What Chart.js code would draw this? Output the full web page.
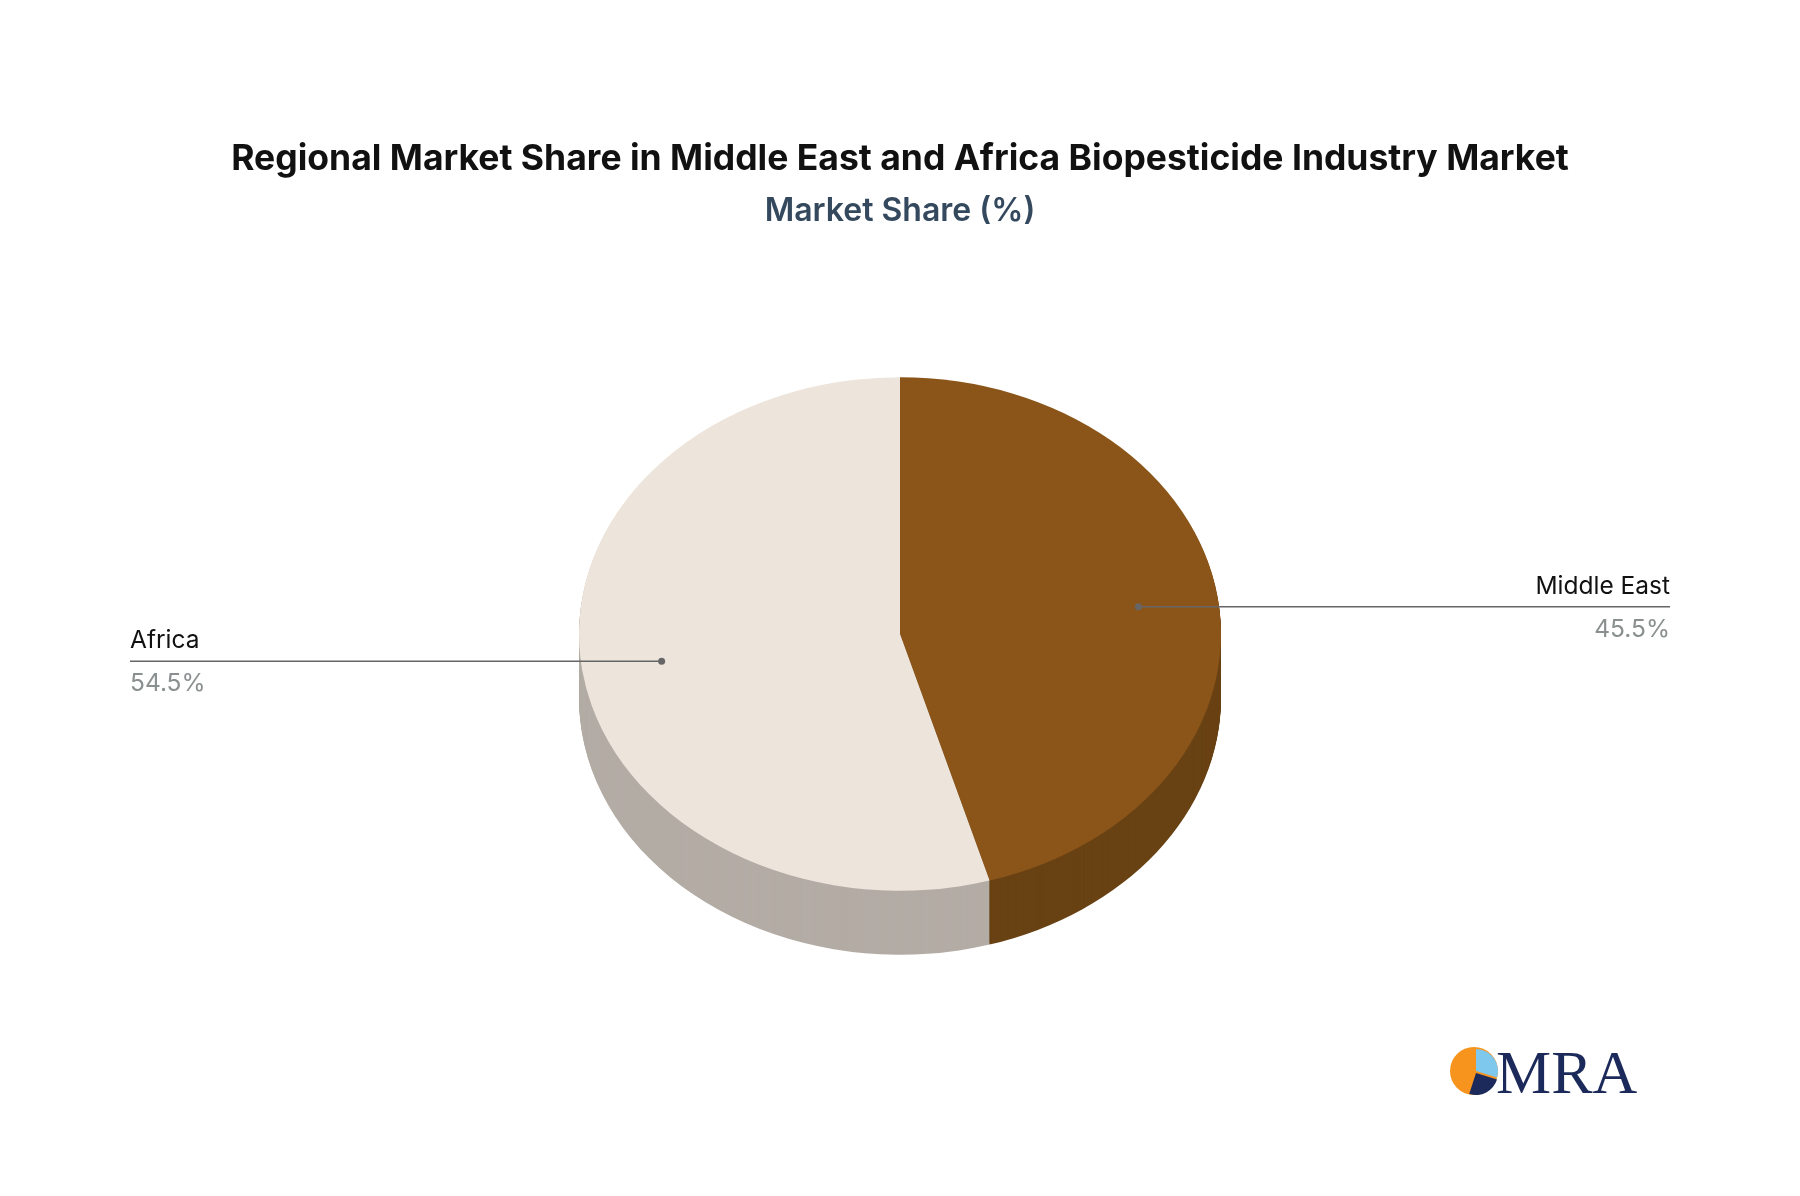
<!DOCTYPE html>
<html><head><meta charset="utf-8">
<script src="https://cdn.jsdelivr.net/npm/chart.js@4/dist/chart.umd.min.js"></script>
<style>html,body{margin:0;padding:0;background:#fff}canvas{display:block}</style>
</head><body>
<canvas id="c" width="1800" height="1196"></canvas>
<script>
const categories = ["Middle East", "Africa"];
const shareValues = [45.5, 54.5];
const topColors = ["#8B5519", "#EDE5DC"];
const sideColors = ["#694214", "#B3ACA5"];
const titleText = "Regional Market Share in Middle East and Africa Biopesticide Industry Market";
const subtitleText = "Market Share (%)";

const CY = 634, RATIO = 0.8, DEPTH = 64;
function applyT(ctx, a, d){ ctx.translate(a.x, CY + d); ctx.scale(1, RATIO); ctx.translate(-a.x, -a.y); }

const pie3d = {
  id: 'pie3d',
  beforeDatasetsDraw(chart){
    const ctx = chart.ctx, arcs = chart.getDatasetMeta(0).data;
    for (let d = DEPTH; d >= 1; d--) {
      arcs.forEach((a, i) => {
        ctx.save(); applyT(ctx, a, d);
        ctx.beginPath(); ctx.moveTo(a.x, a.y);
        ctx.arc(a.x, a.y, a.outerRadius, a.startAngle, a.endAngle);
        ctx.closePath(); ctx.fillStyle = sideColors[i]; ctx.fill();
        ctx.restore();
      });
    }
    ctx.save(); applyT(ctx, arcs[0], 0);
  },
  afterDatasetsDraw(chart){ chart.ctx.restore(); },
  afterDraw(chart){
    const ctx = chart.ctx, arcs = chart.getDatasetMeta(0).data;
    ctx.save();
    ctx.textAlign = 'center'; ctx.textBaseline = 'middle';
    ctx.fillStyle = '#111'; ctx.font = 'bold 35.5px Inter, "Noto Sans", sans-serif';
    ctx.fillText(titleText, 900, 159);
    ctx.fillStyle = '#34495e'; ctx.font = '600 32px Inter, "Noto Sans", sans-serif';
    ctx.fillText(subtitleText, 900, 211);
    const total = shareValues.reduce((s, v) => s + v, 0);
    arcs.forEach((a, i) => {
      const mid = (a.startAngle + a.endAngle) / 2;
      const px = a.x + Math.cos(mid) * a.outerRadius * 0.75;
      const py = CY + Math.sin(mid) * a.outerRadius * 0.75 * RATIO;
      const right = Math.cos(mid) > 0;
      const ex = right ? 1670 : 130;
      ctx.strokeStyle = '#666'; ctx.lineWidth = 1.5;
      ctx.beginPath(); ctx.moveTo(px, py); ctx.lineTo(ex, py); ctx.stroke();
      ctx.fillStyle = '#666'; ctx.beginPath(); ctx.arc(px, py, 3.5, 0, Math.PI * 2); ctx.fill();
      ctx.textAlign = right ? 'right' : 'left'; ctx.textBaseline = 'alphabetic';
      ctx.font = '24.5px Inter, "Noto Sans", sans-serif';
      ctx.fillStyle = '#111'; ctx.fillText(categories[i], ex, py - 13);
      ctx.fillStyle = '#8a8f8f';
      ctx.fillText((shareValues[i] / total * 100).toFixed(1) + '%', ex, py + 30);
    });
    // logo
    ctx.fillStyle = '#F7941D'; ctx.beginPath(); ctx.arc(1474, 1071, 24, 0, Math.PI * 2); ctx.fill();
    ctx.fillStyle = '#7EC8EE'; ctx.beginPath(); ctx.moveTo(1476, 1071); ctx.arc(1476, 1071, 22, -Math.PI/2, 0.3); ctx.closePath(); ctx.fill();
    ctx.fillStyle = '#1B2A5A'; ctx.beginPath(); ctx.moveTo(1476, 1073); ctx.arc(1476, 1073, 22, 0.3, Math.PI*0.6); ctx.closePath(); ctx.fill();
    ctx.fillStyle = '#1B2A5A'; ctx.textAlign = 'left'; ctx.textBaseline = 'alphabetic';
    ctx.font = '62px "Liberation Serif", "DejaVu Serif", serif';
    ctx.fillText('MRA', 1496, 1093);
    ctx.restore();
  }
};

new Chart(document.getElementById('c'), {
  type: 'pie',
  data: { labels: categories, datasets: [{ data: shareValues, backgroundColor: topColors, borderWidth: 0 }] },
  options: {
    responsive: false, animation: false,
    layout: { padding: { top: 277, bottom: 277 } },
    plugins: { legend: { display: false }, tooltip: { enabled: false } }
  },
  plugins: [pie3d]
});
</script>
</body></html>
